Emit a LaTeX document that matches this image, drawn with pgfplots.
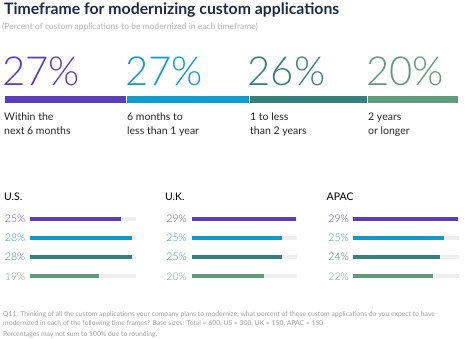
\documentclass[border=0pt]{standalone}
\usepackage{fontspec}
\setmainfont{Lato}
\newfontfamily\lightfont{Lato Light}
\usepackage{pgfplots}
\pgfplotsset{compat=1.18}
\definecolor{cpurple}{HTML}{5B3DBB}
\definecolor{ccyan}{HTML}{0F9BCB}
\definecolor{cteal}{HTML}{37807F}
\definecolor{cgreen}{HTML}{609B7A}
\definecolor{tpurple}{HTML}{6A4EC2}
\definecolor{tcyan}{HTML}{1E9CC8}
\definecolor{tteal}{HTML}{447F80}
\definecolor{tgreen}{HTML}{74A184}
\definecolor{track}{HTML}{EEEEEE}
\definecolor{navy}{HTML}{1C2B4A}
\pgfplotsset{
  region/.style={anchor=north west, scale only axis, height=76pt,
    xmin=0, xmax=29.2, ymin=0.5, ymax=4.5, y dir=reverse, hide axis,
    xbar, bar width=3.8pt, bar shift=0pt, clip=false},
}
\begin{document}
\begin{tikzpicture}
\path[use as bounding box] (0,0) rectangle (474pt,-339pt);
% titles
\node[anchor=base west, inner sep=0pt, text=navy, font=\fontsize{15.8}{18}\selectfont\bfseries] at (4pt,-15pt) {Timeframe for modernizing custom applications};
\node[anchor=base west, inner sep=0pt, text=black!30, font=\fontsize{8.5}{10}\selectfont] at (2pt,-29.5pt) {(Percent of custom applications to be modernized in each timeframe)};
% top stacked bar
\begin{axis}[at={(4pt,-95.5pt)}, anchor=north west, scale only axis, width=454pt, height=8pt,
  xmin=0, xmax=100, ymin=0.5, ymax=1.5, hide axis, xbar stacked, bar width=8pt, clip=false]
\addplot[fill=cpurple, draw=white, line width=0.7pt] coordinates {(27,1)};
\addplot[fill=ccyan, draw=white, line width=0.7pt] coordinates {(27,1)};
\addplot[fill=cteal, draw=white, line width=0.7pt] coordinates {(26,1)};
\addplot[fill=cgreen, draw=white, line width=0.7pt] coordinates {(20,1)};
\end{axis}
\begin{scope}[every node/.style={anchor=base west, inner sep=0pt}]
\node[text=cpurple, font=\lightfont\fontsize{40}{40}\selectfont] at (2pt,-86pt) {27\%};
\node[text=ccyan, font=\lightfont\fontsize{40}{40}\selectfont] at (125pt,-86pt) {27\%};
\node[text=cteal, font=\lightfont\fontsize{40}{40}\selectfont] at (247.5pt,-86pt) {26\%};
\node[text=cgreen, font=\lightfont\fontsize{40}{40}\selectfont] at (366pt,-86pt) {20\%};
\foreach \x/\a/\b in {4/Within the/next 6 months, 127/6 months to/less than 1 year, 250/1 to less/than 2 years, 368/2 years/or longer}{
  \node[text=black!85, font=\fontsize{10.5}{12}\selectfont] at (\x pt,-120.5pt) {\a};
  \node[text=black!85, font=\fontsize{10.5}{12}\selectfont] at (\x pt,-134.5pt) {\b};
}
\node[font=\fontsize{10.5}{12}\selectfont] at (4pt,-200.7pt) {U.S.};
\node[font=\fontsize{10.5}{12}\selectfont] at (165pt,-200.7pt) {U.K.};
\node[font=\fontsize{10.5}{12}\selectfont] at (326.5pt,-200.7pt) {APAC};
\end{scope}
% region bars
\begin{axis}[region, at={(30pt,-209.5pt)}, width=106pt]
\addplot[fill=track, draw=none] coordinates {(29.2,1) (29.2,2) (29.2,3) (29.2,4)};
\addplot[fill=cpurple, draw=none] coordinates {(25,1)};
\addplot[fill=ccyan, draw=none] coordinates {(28,2)};
\addplot[fill=cteal, draw=none] coordinates {(28,3)};
\addplot[fill=cgreen, draw=none] coordinates {(19,4)};
\end{axis}
\begin{axis}[region, at={(192pt,-209.5pt)}, width=105pt]
\addplot[fill=track, draw=none] coordinates {(29.2,1) (29.2,2) (29.2,3) (29.2,4)};
\addplot[fill=cpurple, draw=none] coordinates {(29,1)};
\addplot[fill=ccyan, draw=none] coordinates {(25,2)};
\addplot[fill=cteal, draw=none] coordinates {(25,3)};
\addplot[fill=cgreen, draw=none] coordinates {(20,4)};
\end{axis}
\begin{axis}[region, at={(353pt,-209.5pt)}, width=106pt]
\addplot[fill=track, draw=none] coordinates {(29.2,1) (29.2,2) (29.2,3) (29.2,4)};
\addplot[fill=cpurple, draw=none] coordinates {(29,1)};
\addplot[fill=ccyan, draw=none] coordinates {(25,2)};
\addplot[fill=cteal, draw=none] coordinates {(24,3)};
\addplot[fill=cgreen, draw=none] coordinates {(22,4)};
\end{axis}
% row labels
\begin{scope}[every node/.style={anchor=base east, inner sep=0pt, font=\lightfont\fontsize{10.5}{12}\selectfont}]
\foreach \x/\p/\q/\r/\s in {25.5/25/28/28/19, 187/29/25/25/20, 349/29/25/24/22}{
  \node[text=tpurple] at (\x pt,-222.7pt) {\p\%};
  \node[text=tcyan] at (\x pt,-242pt) {\q\%};
  \node[text=tteal] at (\x pt,-261pt) {\r\%};
  \node[text=tgreen] at (\x pt,-280pt) {\s\%};
}
\end{scope}
% footer
\begin{scope}[every node/.style={anchor=base west, inner sep=0pt, text=black!38, font=\fontsize{6.8}{8}\selectfont}]
\node at (3pt,-316.5pt) {Q11. Thinking of all the custom applications your company plans to modernize, what percent of those custom applications do you expect to have};
\node at (3pt,-325.5pt) {modernized in each of the following time frames? Base sizes: Total = 600, US = 300, UK = 150, APAC = 150};
\node at (3pt,-336pt) {Percentages may not sum to 100\% due to rounding.};
\end{scope}
\end{tikzpicture}
\end{document}
